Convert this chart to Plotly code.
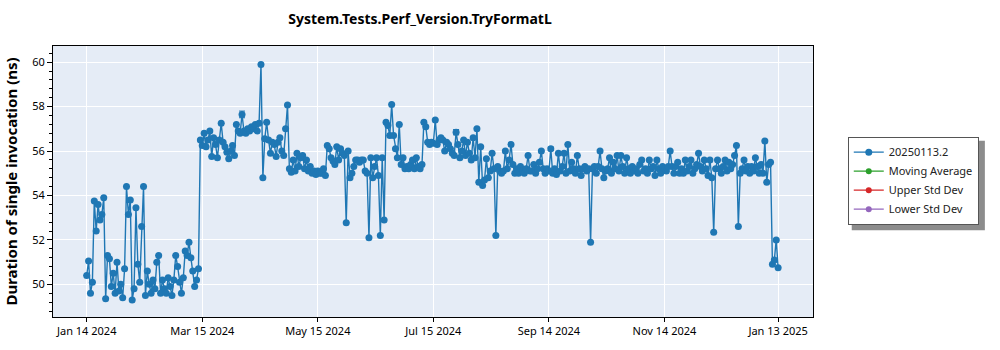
import pandas as pd
import plotly.graph_objects as go

title = "System.Tests.Perf_Version.TryFormatL"
series_name = "20250113.2"
y_title = "Duration of single invocation (ns)"
start_date = "2024-01-14"

# Daily durations (ns), Jan 14 2024 -> Jan 13 2025
vals_jan_mar = [50.4, 51.05, 49.6, 50.1, 53.75, 52.4, 53.6, 52.9, 53.15, 53.9,
                49.35, 51.3, 51.15, 49.9, 50.5, 49.6, 51.0, 49.7, 50.0, 49.4,
                50.7, 54.4, 53.15, 53.8, 49.3, 49.8, 53.45, 50.9, 50.1, 52.6,
                54.4, 49.5, 50.6, 50.0, 49.6, 50.2, 49.8, 51.0, 51.3, 49.6,
                50.2, 49.8, 49.6, 50.3, 49.9, 49.5, 50.2, 51.3, 50.8, 50.1,
                49.6, 50.3, 51.5, 51.3, 51.9, 51.2, 50.6, 49.9, 50.2, 50.7]
vals_mar_may = [56.5, 56.25, 56.8, 56.2, 56.5, 56.9, 55.75, 56.6, 56.3, 55.7,
                56.5, 57.25, 56.4, 56.2, 55.95, 55.65, 56.0, 56.25, 55.8, 57.2,
                56.9, 56.8, 57.65, 56.9, 56.8, 57.0, 56.9, 57.1, 57.0, 57.2,
                56.9, 57.25, 59.9, 54.8, 56.55, 57.3, 56.5, 55.9, 56.4, 56.3,
                55.75, 56.4, 56.6, 56.0, 55.8, 57.0, 58.07, 55.2, 55.05, 55.6,
                55.1, 55.9, 55.3, 55.7, 55.8, 55.2, 55.6, 55.1, 55.3, 55.0,
                55.1, 54.95, 55.1, 55.0]
vals_may_jul = [55.0, 55.2, 54.9, 56.25, 56.1, 55.7, 55.55, 55.4, 56.2, 55.6,
                56.1, 55.9, 55.8, 52.77, 56.0, 54.8, 55.0, 55.3, 55.6, 55.6,
                55.5, 55.6, 55.6, 55.1, 55.0, 52.1, 55.7, 54.8, 55.3, 55.7,
                54.9, 52.2, 55.7, 52.9, 57.3, 57.15, 56.7, 58.1, 56.7, 56.1,
                55.7, 57.2, 55.4, 55.7, 55.2, 55.3, 55.2, 55.4, 55.6, 55.2,
                55.7, 55.3, 55.2, 55.4, 57.3, 57.1, 56.4, 56.3, 56.4, 56.35,
                57.4, 56.3]
vals_jul_sep = [56.5, 56.6, 56.5, 56.0, 56.4, 56.3, 56.1, 55.9, 55.8, 56.85,
                56.3, 55.7, 56.0, 56.5, 55.8, 56.4, 55.9, 55.6, 56.6, 55.7,
                57.0, 54.6, 56.2, 54.45, 54.7, 55.65, 54.8, 55.1, 55.9, 55.2,
                52.2, 55.3, 55.1, 55.0, 55.1, 56.0, 55.2, 55.6, 56.3, 55.4,
                55.0, 55.2, 55.0, 55.3, 55.1, 55.0, 55.2, 55.8, 55.1, 55.1,
                55.4, 55.0, 55.2, 55.5, 56.0, 55.2, 55.0, 55.2, 55.1]
vals_sep_nov = [56.1, 55.0, 55.2, 54.95, 55.9, 55.1, 55.3, 55.9, 55.0, 56.3,
                55.1, 55.5, 55.2, 55.0, 55.8, 55.2, 54.9, 55.2, 55.3, 55.1,
                55.2, 51.9, 55.2, 55.3, 55.0, 55.3, 56.0, 55.2, 54.8, 55.1,
                55.2, 55.7, 55.0, 55.5, 55.2, 55.8, 55.1, 55.8, 55.3, 55.0,
                55.7, 55.2, 55.0, 55.3, 55.1, 55.2, 55.0, 55.4, 55.6, 55.1,
                55.2, 55.0, 55.6, 55.2, 55.3, 54.9, 55.6, 55.2, 55.0, 55.3,
                55.2, 55.1, 55.3]
vals_nov_jan = [56.0, 55.3, 55.0, 55.3, 55.5, 55.0, 55.2, 55.0, 55.6, 55.1,
                55.3, 55.6, 55.0, 55.2, 55.4, 55.9, 55.3, 55.1, 55.6, 55.2,
                54.9, 55.6, 54.8, 52.35, 55.2, 55.6, 55.2, 55.0, 55.3, 55.6,
                55.1, 55.5, 55.2, 55.4, 55.8, 56.25, 52.6, 55.0, 55.2, 55.6,
                55.1, 55.3, 55.0, 55.3, 55.1, 55.7, 55.3, 55.0, 55.4, 55.0,
                56.45, 54.6, 55.4, 55.5, 50.9, 51.1, 52.0, 50.75]

values = vals_jan_mar + vals_mar_may + vals_may_jul + vals_jul_sep + vals_sep_nov + vals_nov_jan
dates = pd.date_range(start_date, periods=len(values), freq="D")

# Error bars on a few points
err_dates = ["2024-04-05", "2024-07-27", "2024-09-15"]
err_sizes = [0.15, 0.12, 0.08]
err_map = dict(zip(pd.to_datetime(err_dates), err_sizes))
errors = [err_map.get(d, None) for d in dates]

tick_dates = ["2024-01-14", "2024-03-15", "2024-05-15", "2024-07-15",
              "2024-09-14", "2024-11-14", "2025-01-13"]
tick_labels = ["Jan 14 2024", "Mar 15 2024", "May 15 2024", "Jul 15 2024",
               "Sep 14 2024", "Nov 14 2024", "Jan 13 2025"]
y_ticks = [50, 52, 54, 56, 58, 60]

legend_names = ["Moving Average", "Upper Std Dev", "Lower Std Dev"]
legend_colors = ["#2ca02c", "#d62728", "#9467bd"]

FONT = "Noto Sans"
BLUE = "#1f77b4"

fig = go.Figure()
fig.add_trace(go.Scatter(
    x=dates, y=values, mode="lines+markers", name=series_name,
    line=dict(color=BLUE, width=1.4),
    marker=dict(color=BLUE, size=7),
    error_y=dict(type="data", array=errors, visible=True, color=BLUE,
                 thickness=1, width=3),
))
for n, c in zip(legend_names, legend_colors):
    fig.add_trace(go.Scatter(x=[None], y=[None], mode="lines+markers", name=n,
                             line=dict(color=c, width=1.3),
                             marker=dict(color=c, size=6)))

L, R, T, B = 48, 187, 46, 32
W, H = 1000, 350
pw, ph = W - L - R, H - T - B

def px_x(px):
    return (px - L) / pw

def px_y(py):
    return (H - B - py) / ph

# legend drop shadow
fig.add_shape(type="rect", xref="paper", yref="paper",
              x0=px_x(852), x1=px_x(986), y0=px_y(231), y1=px_y(141),
              fillcolor="#8c8c8c", line=dict(width=0), layer="above")

fig.update_layout(
    width=W, height=H,
    margin=dict(l=L, r=R, t=T, b=B),
    paper_bgcolor="white",
    plot_bgcolor="#E5ECF6",
    font=dict(family=FONT, size=11, color="black"),
    title=dict(text="<b>" + title + "</b>", x=px_x(420) * pw / W + L / W,
               xanchor="center", y=1 - 19 / H, yanchor="middle",
               font=dict(family=FONT, size=14, color="black")),
    showlegend=True,
    legend=dict(x=px_x(848), xanchor="left", y=px_y(137), yanchor="top",
                bgcolor="white", bordercolor="#555555", borderwidth=1,
                font=dict(family=FONT, size=11, color="#222"),
                itemwidth=30, tracegroupgap=0),
)
fig.update_xaxes(
    range=["2023-12-27 05:00", "2025-01-31 10:00"],
    tickvals=pd.to_datetime(tick_dates), ticktext=tick_labels,
    showgrid=True, gridcolor="white", gridwidth=1,
    showline=True, linecolor="black", linewidth=1, mirror=True,
    ticks="outside", ticklen=4, tickcolor="black",
    tickfont=dict(family=FONT, size=11, color="black"),
    zeroline=False,
)
fig.update_yaxes(
    range=[48.53, 60.73],
    tickvals=y_ticks,
    showgrid=True, gridcolor="white", gridwidth=1,
    showline=True, linecolor="black", linewidth=1, mirror=True,
    ticks="outside", ticklen=5, tickcolor="black",
    minor=dict(dtick=0.4, tick0=0, ticks="outside", ticklen=3, tickcolor="black", showgrid=False),
    tickfont=dict(family=FONT, size=11, color="black"),
    title=dict(text="<b>" + y_title + "</b>", standoff=10,
               font=dict(family=FONT, size=15, color="black")),
    zeroline=False,
)

fig.write_html("out.html")
